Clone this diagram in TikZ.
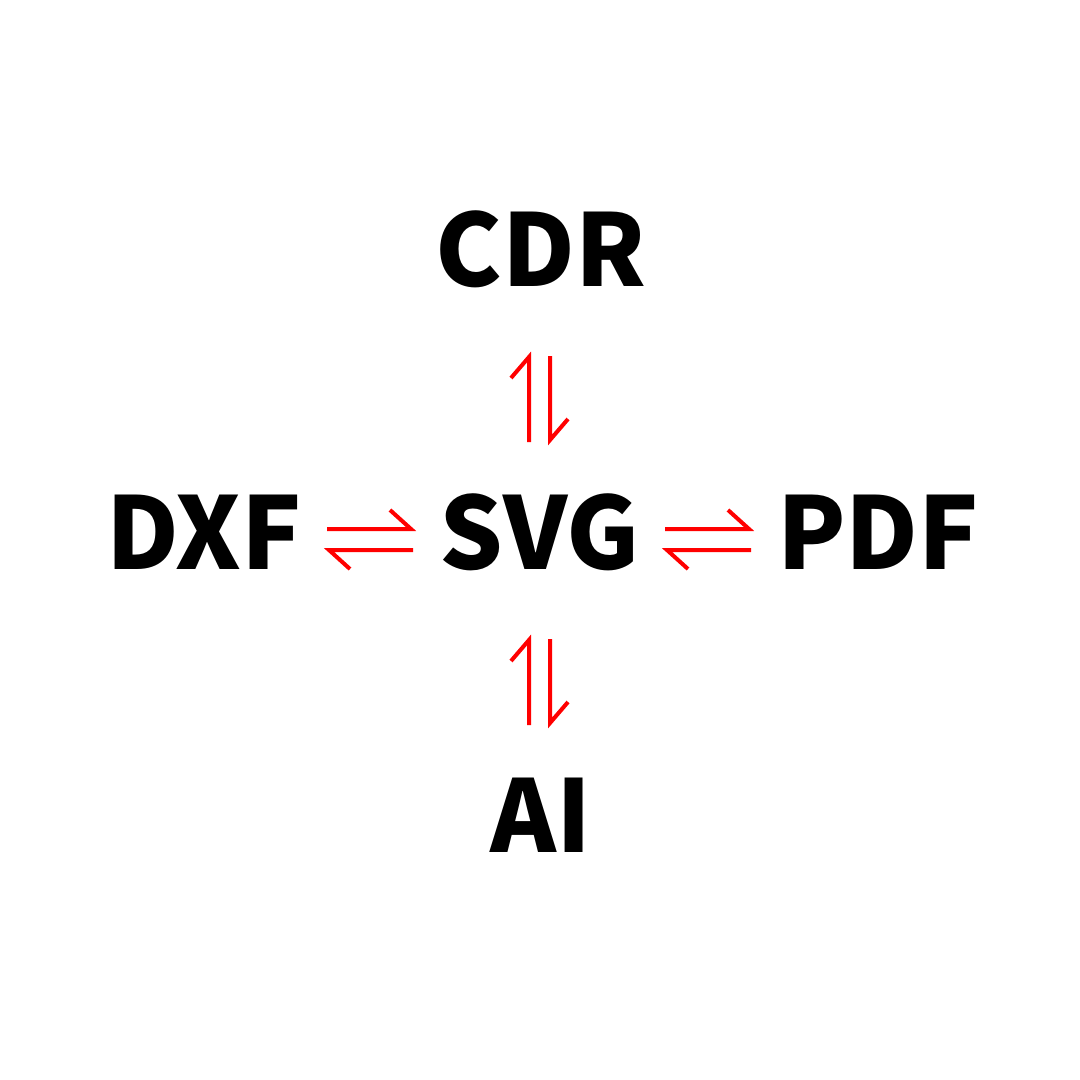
\documentclass[tikz,border=0pt]{standalone}
\usepackage{fontspec}
\newfontfamily\lab{Noto Sans CJK SC}
\begin{document}
\begin{tikzpicture}[x=1pt,y=-1pt,
  fmt/.style={font=\lab\bfseries\fontsize{100}{100}\selectfont, anchor=base, inner sep=0pt},
  harp/.style={draw=red, line width=4pt, line join=miter, line cap=butt}]
\useasboundingbox (0,0) rectangle (1080,1080);
\node[fmt] (cdr) at (541,286) {CDR};
\node[fmt] (dxf) at (204,569) {DXF};
\node[fmt] (svg) at (540,569) {SVG};
\node[fmt] (pdf) at (878,569) {PDF};
\node[fmt] (ai) at (541,852) {AI};
% vertical top pair
\coordinate (t1) at (529,442); \coordinate (t2) at (529,357);
\coordinate (t3) at (550,356); \coordinate (t4) at (550,440);
\draw[harp] (t1) -- (t2) -- ++(-18,21);
\draw[harp] (t3) -- (t4) -- ++(18,-21);
% vertical bottom pair
\coordinate (b1) at (529,725); \coordinate (b2) at (529,640);
\coordinate (b3) at (550,639); \coordinate (b4) at (550,723);
\draw[harp] (b1) -- (b2) -- ++(-18,21);
\draw[harp] (b3) -- (b4) -- ++(18,-21);
% left pair
\coordinate (l1) at (327,529); \coordinate (l2) at (411,529);
\coordinate (l3) at (413,550); \coordinate (l4) at (329,550);
\draw[harp] (l1) -- (l2) -- ++(-21,-19);
\draw[harp] (l3) -- (l4) -- ++(21,19);
% right pair
\coordinate (r1) at (665,529); \coordinate (r2) at (749,529);
\coordinate (r3) at (751,550); \coordinate (r4) at (667,550);
\draw[harp] (r1) -- (r2) -- ++(-21,-19);
\draw[harp] (r3) -- (r4) -- ++(21,19);
\end{tikzpicture}
\end{document}
